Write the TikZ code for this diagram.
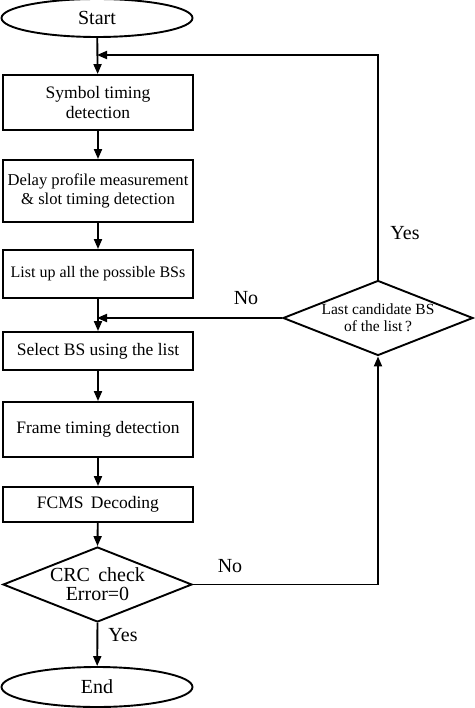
\documentclass[tikz,border=0pt]{standalone}
\usepackage{fontspec}
\setmainfont{Liberation Serif}
\usepackage{tikz}
\usetikzlibrary{arrows.meta}
\usetikzlibrary{shapes.geometric,positioning}
\tikzset{
    % boxes of the flow
    flowbox/.style={
        draw,
        rectangle,
        line width=1.9pt,
        minimum width=190pt,
        inner sep=0pt,
        align=center,
        font=\fontsize{17.5}{20}\selectfont
    },
    terminal/.style={
        draw,
        ellipse,
        line width=1.9pt,
        minimum width=191pt,
        inner sep=0pt,
        font=\fontsize{20}{24}\selectfont
    },
    decision/.style={
        draw,
        diamond,
        line width=1.9pt,
        minimum width=190pt,
        minimum height=75pt,
        inner sep=0pt
    },
    % arrows and lines
    flowarrow/.style={
        line width=1.9pt,
        -{Triangle[length=10pt, width=8pt]}
    },
    branch/.style={
        font=\fontsize{20}{24}\selectfont
    }
}

\begin{document}
\begin{tikzpicture}[x=1pt,y=-1pt]
	\useasboundingbox (0,0) rectangle (474,708);
	
	% left column
	\node[terminal,minimum height=38pt] (start) at (97,18) {Start};
	\node[flowbox,minimum height=55pt] (sym) at (98,102.5) {Symbol timing\\detection};
	\node[flowbox,minimum height=62pt,font=\fontsize{16.6}{19}\selectfont] (delay) at (98,191) {Delay profile measurement\\\& slot timing detection};
	\node[flowbox,minimum height=48pt,font=\fontsize{16}{19}\selectfont] (listbs) at (98,274) {List up all the possible BSs};
	\node[flowbox,minimum height=38pt] (select) at (98,351) {Select BS using the list};
	\node[flowbox,minimum height=55pt] (frame) at (98,429.5) {Frame timing detection};
	\node[flowbox,minimum height=35pt] (fcms) at (98,504.5) {FCMS\, Decoding};
	\node[decision,minimum width=189pt] (crc) at (97.5,584.5) {};
	\node[font=\fontsize{20}{19}\selectfont,align=center] (crctext) at (crc) {CRC\, check\\Error=0};
	\node[terminal,minimum height=40pt] (end) at (97,687) {End};
	
	% right decision
	\node[decision] (last) at (378,318) {};
	\node[font=\fontsize{15.5}{17}\selectfont,align=center] (lasttext) at (last) {Last candidate BS\\of the list\,?};
	
	\coordinate (loopin) at (97,55);
	\coordinate (noin) at (97,318);
	
	% main flow
	\draw[flowarrow] (start) -- (sym);
	\draw[flowarrow] (sym) -- (delay);
	\draw[flowarrow] (delay) -- (listbs);
	\draw[flowarrow] (listbs) -- (select);
	\draw[flowarrow] (select) -- (frame);
	\draw[flowarrow] (frame) -- (fcms);
	\draw[flowarrow] (fcms) -- (crc.north);
	\draw[flowarrow] (crc.south) -- (end);
	
	% loops
	\draw[flowarrow] (crc.east) -| (last.south);
	\draw[flowarrow] (last.north) |- (loopin);
	\draw[flowarrow] (last.west) -- (noin);
	
	% labels
	\node[branch] (yes1) at (123,635) {Yes};
	\node[branch] (no1) at (230,566) {No};
	\node[branch] (yes2) at (405,233) {Yes};
	\node[branch] (no2) at (246,298) {No};
\end{tikzpicture}
\end{document}
